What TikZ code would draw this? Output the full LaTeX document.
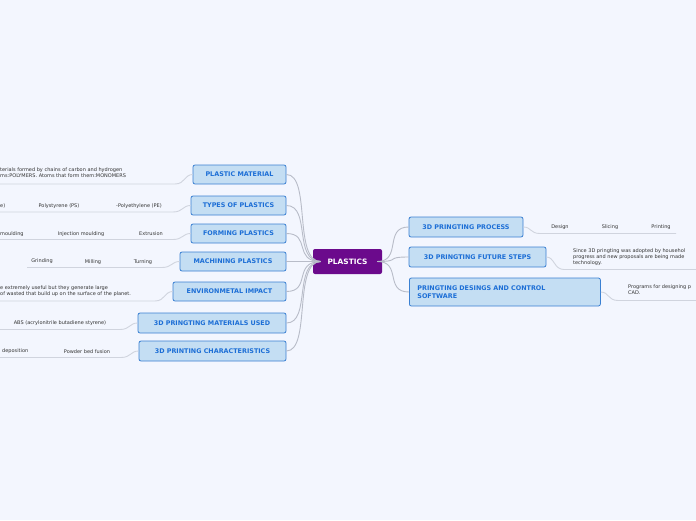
\documentclass[tikz,border=0pt]{standalone}
\usepackage{fontspec}
\setmainfont{DejaVu Sans}
\definecolor{bg}{HTML}{F3F6FE}
\definecolor{bfill}{HTML}{C4DEF3}
\definecolor{bdraw}{HTML}{3A80D2}
\definecolor{btext}{HTML}{1C6ED6}
\definecolor{cen}{HTML}{6B0A8C}
\definecolor{lin}{HTML}{B8BCC8}
\definecolor{leafl}{HTML}{D0D4DE}
\tikzset{
 topic/.style={draw=bdraw,fill=bfill,rounded corners=2pt,line width=0.8pt,text=btext,font=\fontsize{6.4}{7.6}\selectfont\bfseries,inner sep=0pt,align=left},
 leaf/.style={font=\fontsize{5}{6.4}\selectfont,text=black!80,inner sep=0pt,align=left},
 conn/.style={draw=lin,line width=0.9pt},
 leafline/.style={draw=leafl,line width=0.9pt}
}
\begin{document}
\begin{tikzpicture}[x=1pt,y=-1pt]
\fill[bg] (0,0) rectangle (696,520);
\clip (0,0) rectangle (696,520);
% center
\node[fill=cen,rounded corners=2pt,text=white,font=\fontsize{7.4}{8}\selectfont\bfseries,minimum width=69pt,minimum height=25pt,inner sep=0pt] (c) at (347.5,261.5) {PLASTICS};
% left topics
\node[topic,minimum width=93pt,minimum height=19pt,align=center] (t1) at (239.5,174.5) {PLASTIC MATERIAL};
\node[topic,minimum width=95pt,minimum height=19pt,align=center] (t2) at (238.5,205.5) {TYPES OF PLASTICS};
\node[topic,minimum width=95pt,minimum height=19pt,align=center] (t3) at (238.5,233.5) {FORMING PLASTICS};
\node[topic,minimum width=106pt,minimum height=19pt,align=center] (t4) at (233,261.5) {MACHINING PLASTICS};
\node[topic,minimum width=113pt,minimum height=19pt,align=center] (t5) at (229.5,291.5) {ENVIRONMETAL IMPACT};
\node[topic,minimum width=148pt,minimum height=20pt,align=center] (t6) at (212,323) {3D PRINGTING MATERIALS USED};
\node[topic,minimum width=147pt,minimum height=20pt,align=center] (t7) at (212.5,351) {3D PRINTING CHARACTERISTICS};
% right topics
\node[topic,minimum width=114pt,minimum height=20pt,align=center] (r1) at (466,227) {3D PRINGTING PROCESS};
\node[topic,minimum width=137pt,minimum height=20pt,align=center] (r2) at (477.5,257) {3D PRINGTING FUTURE STEPS};
\node[topic,minimum width=191pt,minimum height=28pt,anchor=west,text width=175pt,inner xsep=8pt] (r3) at (409,292) {PRINGTING DESINGS AND CONTROL\\SOFTWARE};
% connectors center -> topics
\foreach \t in {t1,t2,t3,t4,t5,t6,t7}{
 \draw[conn] (c.west) ++(8,0) .. controls +(-28,0) and +(25,0) .. (\t.east);
}
\foreach \t in {r1,r2,r3}{
 \draw[conn] (c.east) ++(-5,0) .. controls +(25,0) and +(-25,0) .. (\t.west);
}
% left leaves
\coordinate (l1) at (0,184); \coordinate (l1e) at (175,184);
\draw[leafline] (l1) -- (l1e) .. controls +(10,0) and +(-8,0) .. (t1.west);
\node[leaf,anchor=north west] (x1) at (0,167.5) {terials formed by chains of carbon and hydrogen\\ms:POLYMERS. Atoms that form them:MONOMERS};

\coordinate (l2) at (0,212); \coordinate (l2e) at (173,212);
\draw[leafline] (l2) -- (l2e) .. controls +(10,0) and +(-8,0) .. (t2.west);
\node[leaf,anchor=west] (a2) at (0,206) {e)};
\node[leaf] (b2) at (59,206) {Polystyrene (PS)};
\node[leaf] (c2) at (139,206) {-Polyethylene (PE)};

\coordinate (l3) at (0,239.5); \coordinate (l3e) at (173,239.5);
\draw[leafline] (l3) -- (l3e) .. controls +(10,0) and +(-8,0) .. (t3.west);
\node[leaf,anchor=west] (a3) at (0,234) {moulding};
\node[leaf] (b3) at (81,234) {Injection moulding};
\node[leaf] (c3) at (151,234) {Extrusion};

\coordinate (l4) at (27,267.5); \coordinate (l4e) at (162,267.5);
\draw[leafline] (l4) -- (l4e) .. controls +(10,0) and +(-8,0) .. (t4.west);
\node[leaf] (a4) at (42,261) {Grinding};
\node[leaf] (b4) at (93,262) {Milling};
\node[leaf] (c4) at (143,262) {Turning};

\coordinate (l5) at (0,301); \coordinate (l5e) at (155,301);
\draw[leafline] (l5) -- (l5e) .. controls +(10,0) and +(-8,0) .. (t5.west);
\node[leaf,anchor=north west] (x5) at (0,285.5) {e extremely useful but they generate large\\of wasted that build up on the surface of the planet.};

\coordinate (l6) at (0,329.5); \coordinate (l6e) at (120,329.5);
\draw[leafline] (l6) -- (l6e) .. controls +(10,0) and +(-8,0) .. (t6.west);
\node[leaf] (a6) at (60,323.5) {ABS (acrylonitrile butadiene styrene)};

\coordinate (l7) at (0,357.5); \coordinate (l7e) at (121,357.5);
\draw[leafline] (l7) -- (l7e) .. controls +(10,0) and +(-8,0) .. (t7.west);
\node[leaf,anchor=west] (a7) at (2,351.5) {deposition};
\node[leaf] (b7) at (87,351.5) {Powder bed fusion};

% right leaves
\coordinate (m1) at (540,233.5); \coordinate (m1e) at (676,233.5);
\draw[leafline] (r1.east) .. controls +(8,0) and +(-10,0) .. (m1) -- (m1e);
\node[leaf] (a8) at (560,227.5) {Design};
\node[leaf] (b8) at (610,227.5) {Slicing};
\node[leaf] (c8) at (661,227.5) {Printing};

\coordinate (m2) at (564,269.5); \coordinate (m2e) at (696,269.5);
\draw[leafline] (r2.east) .. controls +(8,0) and +(-10,0) .. (m2) -- (m2e);
\node[leaf,anchor=north west] (x9) at (573,248) {Since 3D pringting was adopted by househol\\progress and new proposals are being made\\technology.};

\coordinate (m3) at (618,300.5); \coordinate (m3e) at (696,300.5);
\draw[leafline] (r3.east) .. controls +(8,0) and +(-10,0) .. (m3) -- (m3e);
\node[leaf,anchor=north west] (x10) at (628,284) {Programs for designing p\\CAD.};
\end{tikzpicture}
\end{document}
